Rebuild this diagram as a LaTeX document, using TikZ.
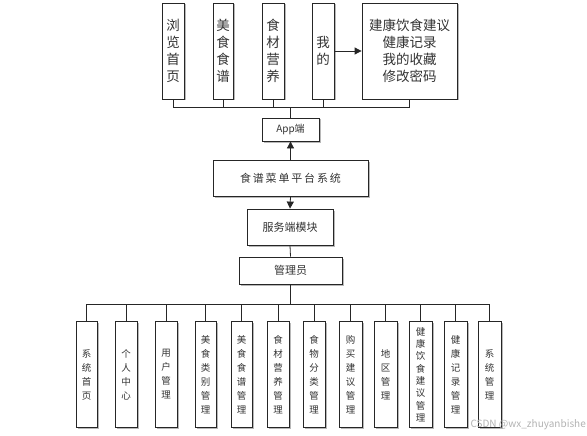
\documentclass[tikz,border=0pt]{standalone}
\usepackage{fontspec}
\setmainfont{Noto Sans CJK SC}
\usetikzlibrary{arrows.meta,shadows}
\definecolor{txt}{HTML}{333333}
\begin{document}
\begin{tikzpicture}[x=1pt,y=-1pt,
  box/.style={draw=black!85, line width=0.8pt, fill=white, inner sep=0pt, align=center, text=txt,
    drop shadow={shadow xshift=1.5pt, shadow yshift=-1.5pt, fill=black!35, opacity=0.8}},
  topbox/.style={box, minimum height=96pt, font=\fontsize{13.5}{17}\selectfont},
  midbox/.style={box, font=\fontsize{11}{13}\selectfont},
  botbox/.style={box, minimum height=106pt, minimum width=22pt, font=\fontsize{9.5}{14}\selectfont},
  conn/.style={draw=black!85, line width=0.8pt},
  arr/.style={conn, -{Triangle[length=7pt,width=7pt]}},
  wm/.style={text=black!30, font=\fontsize{10}{12}\selectfont, inner sep=0pt}]
\useasboundingbox (0,0) rectangle (587,436);
% top row
\node[topbox, minimum width=22pt] (t1) at (173,51) {浏\\览\\首\\页};
\node[topbox, minimum width=20pt] (t2) at (223,51) {美\\食\\食\\谱};
\node[topbox, minimum width=22pt] (t3) at (273,51) {食\\材\\营\\养};
\node[topbox, minimum width=22pt] (t4) at (323,51) {我\\的};
\node[topbox, minimum width=95pt] (t5) at (409.5,51) {建康饮食建议\\健康记录\\我的收藏\\修改密码};
\coordinate (tb) at (290,107);
\draw[arr] (t4.east) -- (t5.west);
% middle
\node[midbox, minimum width=57pt, minimum height=23pt, font=\fontsize{10}{12}\selectfont] (app) at (290.5,129.5) {App端};
\node[midbox, minimum width=155pt, minimum height=36pt] (sys) at (290.5,178) {食\,谱\,菜\,单\,平\,台\,系\,统};
\node[midbox, minimum width=86pt, minimum height=36pt] (srv) at (290,227) {服务端模块};
\node[midbox, minimum width=103pt, minimum height=27pt] (adm) at (290.5,270.5) {管理员};
\draw[conn] (t1.south) |- (t5.south |- tb) -- (t5.south);
\foreach \n in {t2,t3,t4} \draw[conn] (\n.south) -- (\n.south |- tb);
\draw[conn] (app.north) -- (app.north |- tb);
\draw[arr] (sys.north) -- (app.south);
\draw[arr] (sys.south) -- (srv.north);
\draw[conn] (srv.south) -- (adm.north);
% bottom row
\node[botbox, minimum width=21pt] (b1) at (86.5,374.5) {系\\统\\首\\页};
\node[botbox] (b2) at (126,374.5) {个\\人\\中\\心};
\node[botbox] (b3) at (166,374.5) {用\\户\\管\\理};
\node[botbox, minimum width=21pt] (b4) at (205.5,374.5) {美\\食\\类\\别\\管\\理};
\node[botbox, minimum width=21pt] (b5) at (241.5,374.5) {美\\食\\食\\谱\\管\\理};
\node[botbox] (b6) at (278,374.5) {食\\材\\营\\养\\管\\理};
\node[botbox] (b7) at (314,374.5) {食\\物\\分\\类\\管\\理};
\node[botbox, minimum width=23pt] (b8) at (350.5,374.5) {购\\买\\建\\议\\管\\理};
\node[botbox, minimum width=23pt] (b9) at (385.5,374.5) {地\\区\\管\\理};
\node[botbox, minimum width=23pt, font=\fontsize{9.5}{12.3}\selectfont] (b10) at (420.5,374.5) {健\\康\\饮\\食\\建\\议\\管\\理};
\node[botbox, minimum width=23pt] (b11) at (455.5,374.5) {健\\康\\记\\录\\管\\理};
\node[botbox, minimum width=23pt] (b12) at (489.5,374.5) {系\\统\\管\\理};
\coordinate (bb) at (290,304);
\draw[conn] (b1.north) |- (b12.north |- bb) -- (b12.north);
\foreach \n in {b2,b3,b4,b5,b6,b7,b8,b9,b10,b11} \draw[conn] (\n.north) -- (\n.north |- bb);
\draw[conn] (adm.south) -- (adm.south |- bb);
\node[wm, anchor=east] (wmk) at (586,425) {CSDN @wx\_zhuyanbishe};
\end{tikzpicture}
\end{document}
